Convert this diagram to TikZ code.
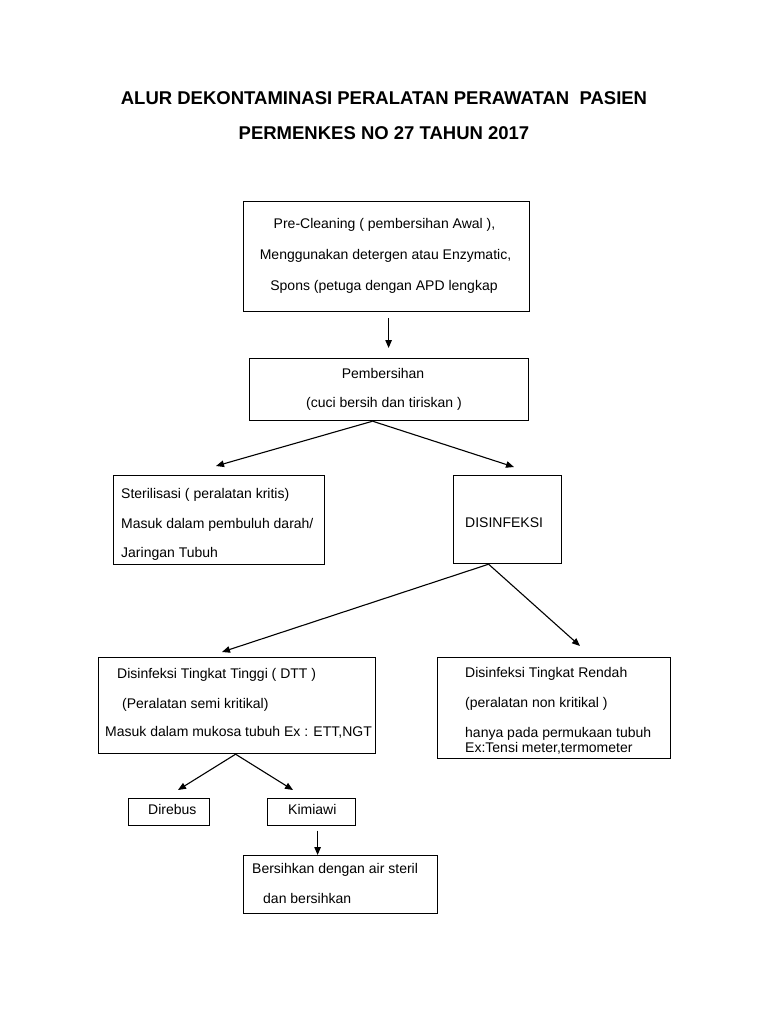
\documentclass[tikz,border=0pt]{standalone}
\usepackage{fontspec}
\setmainfont{Liberation Sans}
\usetikzlibrary{arrows.meta,calc}
\tikzset{
  box/.style={draw=black, line width=1.2pt, anchor=north west, inner sep=0pt},
  txt/.style={inner sep=0pt, anchor=base west, font=\fontsize{14}{16}\selectfont},
  ctxt/.style={inner sep=0pt, anchor=base, font=\fontsize{14}{16}\selectfont},
  ttl/.style={inner sep=0pt, anchor=base, font=\fontsize{18.5}{20}\selectfont\bfseries},
  arr/.style={line width=1.1pt, -{Triangle[length=8pt,width=6.5pt]}}
}
\begin{document}
\begin{tikzpicture}[x=1pt,y=-1pt]
\useasboundingbox[fill=white] (0,0) rectangle (768,1024);
% titles
\node[ttl] (T1) at (384,105) {ALUR DEKONTAMINASI PERALATAN PERAWATAN\ \ PASIEN};
\node[ttl] (T2) at (384,139.5) {PERMENKES NO 27 TAHUN 2017};
% boxes
\node[box, minimum width=286pt, minimum height=110pt] (A) at (243,201) {};
\node[box, minimum width=279pt, minimum height=62pt] (B) at (249,358) {};
\node[box, minimum width=211pt, minimum height=89pt] (C) at (113,475) {};
\node[box, minimum width=108pt, minimum height=88pt] (D) at (453,475) {};
\node[box, minimum width=277pt, minimum height=96pt] (E) at (98,657) {};
\node[box, minimum width=233pt, minimum height=101pt] (F) at (437,657) {};
\node[box, minimum width=81pt, minimum height=27pt] (G) at (128,797.5) {};
\node[box, minimum width=88pt, minimum height=27pt] (H) at (267,797.5) {};
\node[box, minimum width=194pt, minimum height=58pt] (I) at (243,855) {};
% texts
\node[ctxt] (A1) at (384.5,229) {Pre-Cleaning ( pembersihan Awal ),};
\node[ctxt] (A2) at (385.5,259) {Menggunakan detergen atau Enzymatic,};
\node[ctxt] (A3) at (384,290) {Spons (petuga dengan APD lengkap};
\node[ctxt] (B1) at (383,378) {Pembersihan};
\node[ctxt] (B2) at (384,407) {(cuci bersih dan tiriskan )};
\node[txt] (C1) at (121,498) {Sterilisasi ( peralatan kritis)};
\node[txt] (C2) at (121,528.5) {Masuk dalam pembuluh darah/};
\node[txt] (C3) at (121,557.5) {Jaringan Tubuh};
\node[txt] (D1) at (465,527) {DISINFEKSI};
\node[txt] (E1) at (117,678) {Disinfeksi Tingkat Tinggi ( DTT )};
\node[txt] (E2) at (122,708) {(Peralatan semi kritikal)};
\node[txt] (E3) at (105,736) {Masuk dalam mukosa tubuh Ex : ETT,NGT};
\node[txt] (F1) at (465,677.5) {Disinfeksi Tingkat Rendah};
\node[txt] (F2) at (465,707.5) {(peralatan non kritikal )};
\node[txt] (F3) at (465,737) {hanya pada permukaan tubuh};
\node[txt] (F4) at (465,752.5) {Ex:Tensi meter,termometer};
\node[txt] (G1) at (148,814.5) {Direbus};
\node[txt] (H1) at (288,814.5) {Kimiawi};
\node[txt] (I1) at (252,873) {Bersihkan dengan air steril};
\node[txt] (I2) at (263,903) {dan bersihkan};
% connector end points
\coordinate (a0) at ($(A.south)+(2,6)$);
\coordinate (tB) at ($(B.north)+(-0.5,-10)$);
\coordinate (b0) at ($(B.south)+(-16.5,0)$);
\coordinate (tC) at (216,466);
\coordinate (tD) at (514,467);
\coordinate (d0) at ($(D.south)+(-19,0)$);
\coordinate (tE) at (222,652);
\coordinate (tF) at (580,646);
\coordinate (e0) at ($(E.south)+(-1.5,0)$);
\coordinate (tG) at (178,790);
\coordinate (tH) at (293,790);
\coordinate (h0) at ($(H.south)+(6,5)$);
\coordinate (tI) at ($(I.north)+(-23,0)$);
% connectors
\draw[arr] (a0) -- (tB);
\draw[arr] (b0) -- (tC);
\draw[arr] (b0) -- (tD);
\draw[arr] (d0) -- (tE);
\draw[arr] (d0) -- (tF);
\draw[arr] (e0) -- (tG);
\draw[arr] (e0) -- (tH);
\draw[arr] (h0) -- (tI);
\end{tikzpicture}
\end{document}
